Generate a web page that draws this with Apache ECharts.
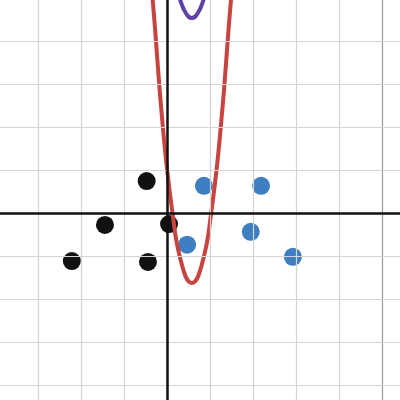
<!DOCTYPE html><html><head><meta charset="utf-8">
<script src="https://cdn.jsdelivr.net/npm/echarts@6/dist/echarts.min.js"></script>
<style>html,body{margin:0;padding:0;background:#fff}#c{width:400px;height:400px}</style></head><body><div id="c"></div>
<script>
const blackPts=[[-0.47,0.74],[-1.44,-0.28],[0.05,-0.26],[-2.21,-1.12],[-0.44,-1.14]];
const bluePts=[[0.86,0.63],[2.19,0.63],[0.47,-0.74],[1.95,-0.44],[2.93,-1.02]];
const redX=[-0.4,-0.33,-0.1,0.13,0.35,0.58,0.81,1.03,1.26,1.49,1.56];
const redY=[5.5,4.95,2.07,0,-1.21,-1.63,-1.21,0,2.07,4.95,5.5];
const purpleX=[0.28,0.31,0.45,0.58,0.71,0.85,0.88];
const purpleY=[5.1,4.95,4.63,4.53,4.63,4.95,5.1];
const gridX=[-3,-2,-1,1,2,3,4,5];
const gridY=[-4,-3,-2,-1,1,2,3,4];
const zip=(a,b)=>a.map((v,i)=>[v,b[i]]);
const chart=echarts.init(document.getElementById('c'));
const gl=[...gridX.map(v=>({xAxis:v,lineStyle:{color:v===5?'#999':'#d4d4d4',width:1.2,type:'solid'}})),
...gridY.map(v=>({yAxis:v,lineStyle:{color:'#d4d4d4',width:1.2,type:'solid'}})),
{xAxis:0,lineStyle:{color:'#111',width:2.5,type:'solid'}},{yAxis:0,lineStyle:{color:'#111',width:2.5,type:'solid'}}];
chart.setOption({animation:false,
grid:{left:0,right:0,top:0,bottom:0},
xAxis:{type:'value',min:-3.88,max:5.42,show:false},
yAxis:{type:'value',min:-4.35,max:4.95,show:false},
series:[
{type:'line',data:[],markLine:{silent:true,symbol:'none',label:{show:false},data:gl}},
{type:'line',data:zip(redX,redY),smooth:true,showSymbol:false,lineStyle:{color:'#c74440',width:4},clip:true},
{type:'line',data:zip(purpleX,purpleY),smooth:true,showSymbol:false,lineStyle:{color:'#6042a6',width:4},clip:true},
{type:'scatter',data:blackPts,symbolSize:18,itemStyle:{color:'#111',opacity:1}},
{type:'scatter',data:bluePts,symbolSize:18,itemStyle:{color:'#3d7fc0',opacity:1}}
]});
</script></body></html>
